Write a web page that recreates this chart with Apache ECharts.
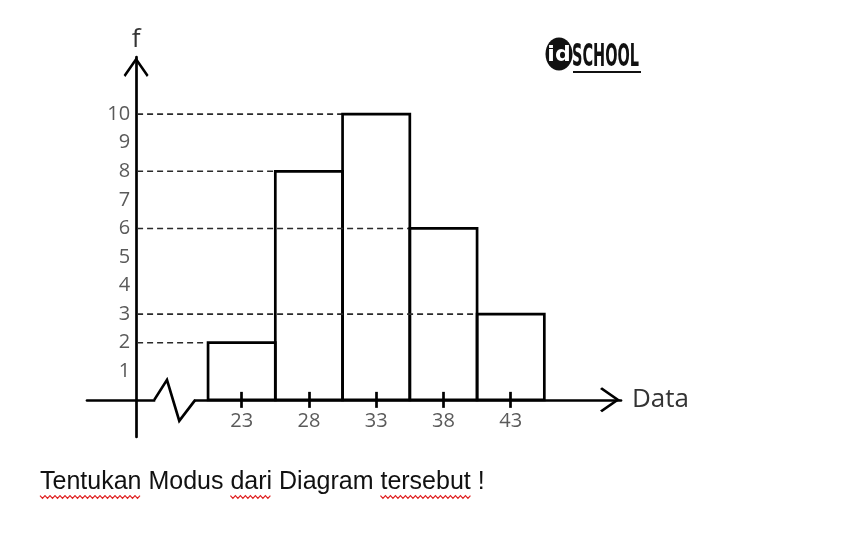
<!DOCTYPE html>
<html><head><meta charset="utf-8">
<script src="https://cdn.jsdelivr.net/npm/echarts@6/dist/echarts.min.js"></script>
<style>html,body{margin:0;padding:0;background:#fff}#c{width:845px;height:535px}</style>
</head><body><div id="c"></div>
<script>
// ---- data ----
const classMarks = [23, 28, 33, 38, 43];
const frequencies = [2, 8, 10, 6, 3];
const classWidth = 5;
const xTickLabels = [23, 28, 33, 38, 43];
const yTickLabels = [1, 2, 3, 4, 5, 6, 7, 8, 9, 10];
const xName = 'Data';
const yName = 'f';
const caption = 'Tentukan Modus dari Diagram tersebut !';
const misspelled = ['Tentukan', 'dari', 'tersebut'];

// ---- layout ----
const X_MIN = 11.5, X_MAX = 51.2, Y_MIN = -1.3, Y_MAX = 12;
const Y_AXIS_AT = 15.15;          // x value where the vertical axis sits
const BREAK = [16.5, 19.55];      // axis break (zigzag) range
const GRID = {left: 87, right: 224, top: 57, bottom: 98};
const W = 845, H = 535;
const gridW = W - GRID.left - GRID.right;
const gridH = H - GRID.top - GRID.bottom;
const yOffset = -(Y_AXIS_AT - X_MIN) / (X_MAX - X_MIN) * gridW;
const xOffset = -(0 - Y_MIN) / (Y_MAX - Y_MIN) * gridH;
const arrow = 'path://M50,0 L100,72 L93,80 L50,18 L7,80 L0,72 Z';
const LW = 2.7;
const axisLineStyle = {color: '#000', width: LW};
const labelFont = {fontFamily: 'Open Sans', fontSize: 20, color: '#5a5a5a'};

const chart = echarts.init(document.getElementById('c'), null, {renderer: 'canvas'});

// squiggles under misspelled words
const capFont = '25px "Liberation Sans"';
const capX = 40, capY = 482;
const ctx = document.createElement('canvas').getContext('2d');
ctx.font = capFont;
const squiggles = [];
misspelled.forEach(function (word) {
  const idx = caption.indexOf(word);
  const x0 = capX + ctx.measureText(caption.slice(0, idx)).width;
  const x1 = x0 + ctx.measureText(word).width;
  const pts = [];
  let up = true;
  for (let x = x0; x <= x1; x += 2.5) { pts.push([x, 497 + (up ? -1.4 : 1.4)]); up = !up; }
  squiggles.push({type: 'polyline', shape: {points: pts}, style: {stroke: '#e02020', lineWidth: 1.2, fill: null}, z: 10});
});

const option = {
  animation: false,
  backgroundColor: '#fff',
  grid: GRID,
  xAxis: [{
    type: 'value', min: X_MIN, max: X_MAX, position: 'bottom', offset: xOffset,
    axisLine: {show: true, onZero: false, lineStyle: axisLineStyle,
      symbol: ['none', arrow], symbolSize: [25, 22], symbolOffset: [0, -11]},
    axisTick: {show: true, customValues: xTickLabels, length: 8, lineStyle: {color: '#000', width: LW}},
    axisLabel: Object.assign({customValues: xTickLabels, margin: 11}, labelFont),
    splitLine: {show: false},
    name: xName, nameLocation: 'end', nameGap: 11,
    nameTextStyle: {fontFamily: 'Open Sans', fontSize: 26, color: '#333', verticalAlign: 'middle'}
  }, {
    type: 'value', min: X_MIN, max: X_MAX, position: 'bottom', offset: xOffset,
    axisLine: {show: false, onZero: false},
    axisTick: {show: true, inside: true, customValues: xTickLabels, length: 8, lineStyle: {color: '#000', width: LW}},
    axisLabel: {show: false},
    splitLine: {show: false}
  }],
  yAxis: [{
    type: 'value', min: Y_MIN, max: Y_MAX, position: 'left', offset: yOffset,
    axisLine: {show: true, onZero: false, lineStyle: axisLineStyle,
      symbol: ['none', arrow], symbolSize: [25, 20], symbolOffset: [0, -10]},
    axisTick: {show: false},
    axisLabel: Object.assign({customValues: yTickLabels, margin: 6}, labelFont),
    splitLine: {show: false},
    name: yName, nameLocation: 'end', nameGap: 4,
    nameTextStyle: {fontFamily: 'Open Sans', fontSize: 26, color: '#333'}
  }],
  series: [{
    type: 'custom',
    xAxisIndex: 0, yAxisIndex: 0,
    data: classMarks.map(function (m, i) { return [m, frequencies[i]]; }),
    renderItem: function (params, api) {
      const m = api.value(0), v = api.value(1);
      const tl = api.coord([m - classWidth / 2, v]);
      const br = api.coord([m + classWidth / 2, 0]);
      const ax = api.coord([Y_AXIS_AT, v]);
      return {type: 'group', children: [
        {type: 'line', shape: {x1: ax[0] + 1, y1: tl[1], x2: tl[0], y2: tl[1]},
          style: {stroke: '#2a2a2a', lineWidth: 1.6, lineDash: [6, 4]}},
        {type: 'rect', shape: {x: tl[0], y: tl[1], width: br[0] - tl[0], height: br[1] - tl[1]},
          style: {fill: 'transparent', stroke: '#000', lineWidth: LW}}
      ]};
    }
  }, {
    type: 'custom',
    xAxisIndex: 0, yAxisIndex: 0,
    data: [[BREAK[0], BREAK[1]]],
    renderItem: function (params, api) {
      const a = api.coord([api.value(0), 0]);
      const b = api.coord([api.value(1), 0]);
      const w = b[0] - a[0];
      return {type: 'group', children: [
        {type: 'line', shape: {x1: a[0] + 1, y1: a[1], x2: b[0] - 1, y2: b[1]}, style: {stroke: '#fff', lineWidth: 5}},
        {type: 'polyline', shape: {points: [[a[0], a[1]], [a[0] + 0.31 * w, a[1] - 20], [a[0] + 0.61 * w, a[1] + 21], [b[0], b[1]]]},
          style: {stroke: '#000', lineWidth: LW, fill: null, lineJoin: 'miter'}}
      ]};
    }
  }],
  graphic: [
    {type: 'text', x: capX, y: capY, style: {text: caption, font: capFont, fill: '#111', verticalAlign: 'middle', align: 'left'}, z: 10},
    // logo
    {type: 'ellipse', shape: {cx: 559, cy: 54, rx: 13.5, ry: 16.5}, style: {fill: '#111'}, z: 10},
    {type: 'text', x: 559, y: 55, style: {text: 'id', font: 'bold 22px "DejaVu Sans"', fill: '#fff', align: 'center', verticalAlign: 'middle'}, z: 11},
    {type: 'text', x: 572, y: 58, scaleX: 0.5, scaleY: 1.08, style: {text: 'SCHOOL', font: 'bold 29px "DejaVu Sans"', fill: '#111', align: 'left', verticalAlign: 'middle'}, z: 10},
    {type: 'line', shape: {x1: 573, y1: 72, x2: 641, y2: 72}, style: {stroke: '#111', lineWidth: 2}, z: 10}
  ].concat(squiggles)
};
chart.setOption(option);
</script></body></html>
